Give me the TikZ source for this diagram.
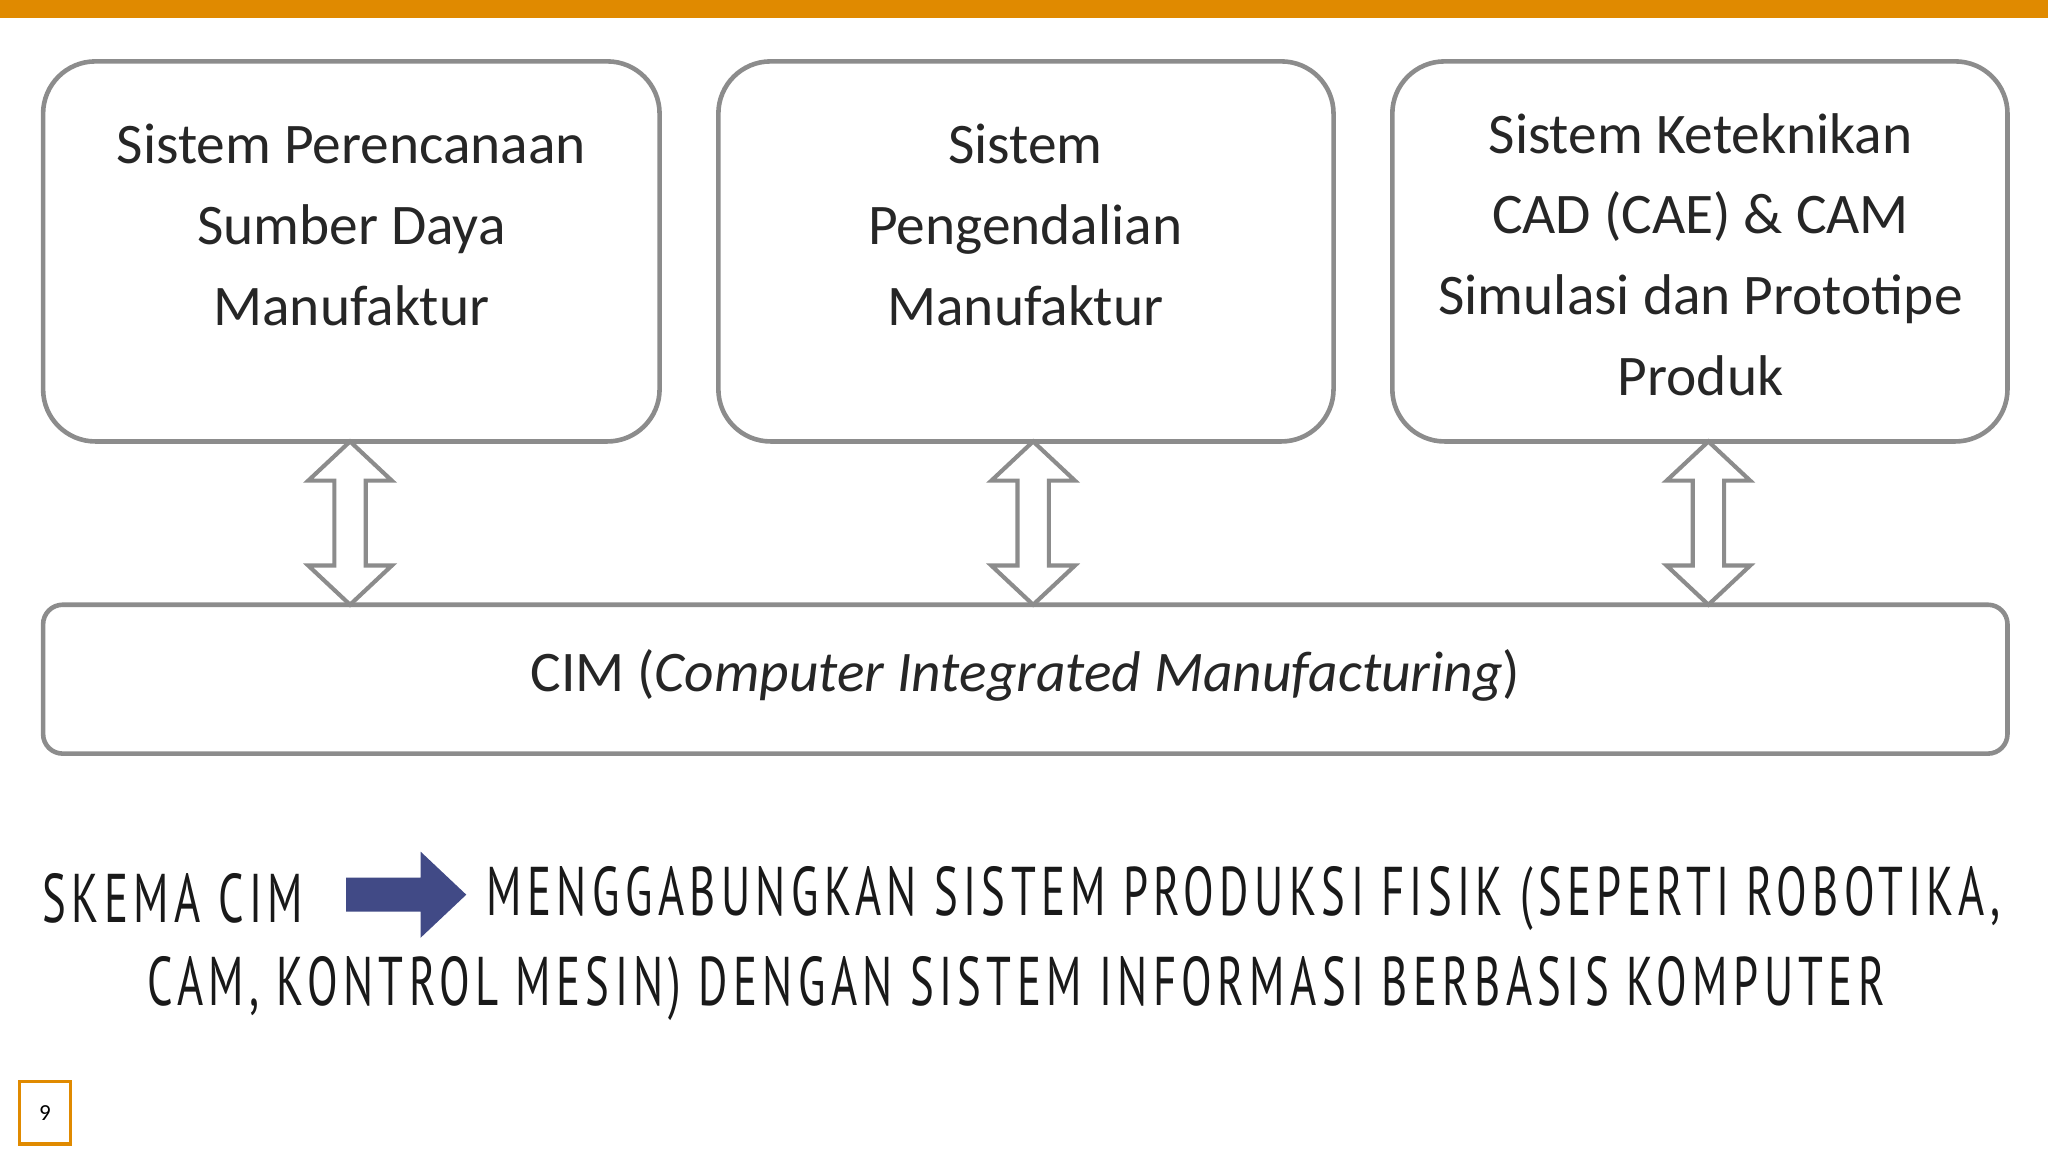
\documentclass[tikz,border=0pt]{standalone}
\usepackage{fontspec}
\setmainfont{Carlito}
\newfontfamily\capsfont[LetterSpace=12]{PT Sans}
\definecolor{orng}{HTML}{E08A00}
\definecolor{bord}{HTML}{8C8C8C}
\definecolor{navy}{HTML}{414A86}
\begin{document}
\begin{tikzpicture}[x=0.01cm,y=-0.01cm,
  sysbox/.style={draw=bord,line width=1pt,rounded corners=0.4cm,fill=white},
  dbl/.style={draw=bord,line width=0.9pt,fill=white},
  lbl/.style={font=\fontsize{12.5pt}{17.6pt}\selectfont,align=center,text=black!85},
  caps/.style={font=\capsfont\fontsize{15pt}{20pt}\selectfont,text=black!90}]
\useasboundingbox (0,0) rectangle (1568,882);
\fill[orng] (0,0) rectangle (1568,14);
\draw[sysbox] (33,47) rectangle (505,338);
\draw[sysbox] (550,47) rectangle (1021,338);
\draw[sysbox] (1066,47) rectangle (1537,338);
\draw[sysbox,rounded corners=0.15cm] (33,463) rectangle (1537,577);
\node[lbl] (b1) at (269,172) {Sistem Perencanaan\\Sumber Daya\\Manufaktur};
\node[lbl] (b2) at (785,172) {Sistem\\Pengendalian\\Manufaktur};
\node[lbl] (b3) at (1302,195) {Sistem Keteknikan\\CAD (CAE) \& CAM\\Simulasi dan Prototipe\\Produk};
\node[lbl] (cim) at (785,517) {CIM (\textit{Computer Integrated Manufacturing})};
\foreach \cx in {268,791,1308}{
  \draw[dbl] (\cx,338) -- (\cx+32,368) -- (\cx+12,368) -- (\cx+12,433) -- (\cx+32,433) -- (\cx,463)
    -- (\cx-32,433) -- (\cx-12,433) -- (\cx-12,368) -- (\cx-32,368) -- cycle;
}
\node[caps,anchor=west,inner sep=0pt] (sk) at (32,688) {\scalebox{0.65}[1]{SKEMA CIM}};
\fill[navy] (265,672) -- (322,672) -- (322,652) -- (357,685) -- (322,718) -- (322,698) -- (265,698) -- cycle;
\node[caps,anchor=west,inner sep=0pt] (l1) at (372,688) {\scalebox{0.65}[1]{MENGGABUNGKAN SISTEM PRODUKSI FISIK (SEPERTI ROBOTIKA,}};
\node[caps,inner sep=0pt] (l2) at (778,757) {\scalebox{0.65}[1]{CAM, KONTROL MESIN) DENGAN SISTEM INFORMASI BERBASIS KOMPUTER}};
\draw[orng,line width=0.8pt] (15,828) rectangle (54,876);
\node[font=\fontsize{5pt}{6pt}\selectfont] (pg) at (34.5,852) {9};
\end{tikzpicture}
\end{document}
